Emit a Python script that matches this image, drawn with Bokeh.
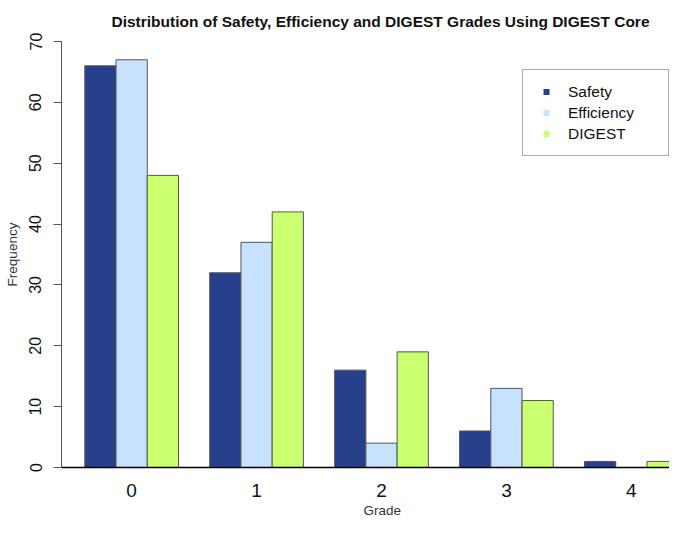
from bokeh.plotting import figure
from bokeh.models import Range1d, FixedTicker, Legend, LegendItem, ColumnDataSource, Title
from bokeh.embed import file_html
from bokeh.resources import INLINE

# ---- data ----
grades = [0, 1, 2, 3, 4]
safety = [66, 32, 16, 6, 1]
efficiency = [67, 37, 4, 13, 0]
digest = [48, 42, 19, 11, 1]
series_names = ["Safety", "Efficiency", "DIGEST"]
series_values = [safety, efficiency, digest]
colors = ["#27408B", "#C6E2FF", "#CAFF70"]
y_ticks = [0, 10, 20, 30, 40, 50, 60, 70]
title_text = "Distribution of Safety, Efficiency and DIGEST Grades Using DIGEST Core"
x_title = "Grade"
y_title = "Frequency"

FONT = "Liberation Sans"
bar_w = 0.25  # three bars per grade, one bar-width gap between groups

p = figure(width=669, height=518, output_backend="svg", toolbar_location=None,
           x_range=Range1d(-0.5616, 4.3055), y_range=Range1d(0, 70),
           min_border_left=61, min_border_right=0, min_border_top=41, min_border_bottom=51)
p.background_fill_color = "white"
p.border_fill_color = "white"
p.outline_line_color = None
p.xgrid.visible = False
p.ygrid.visible = False

legend_items = []
for j, (name, vals, col) in enumerate(zip(series_names, series_values, colors)):
    xs = [g + (j - 1) * bar_w for g in grades]
    src = ColumnDataSource(dict(x=xs, top=vals))
    p.vbar(x="x", top="top", bottom=0, width=bar_w, source=src,
           fill_color=col, line_color="#555555", line_width=1)
    leg = p.scatter(x=xs[:1], y=vals[:1], marker="square", fill_color=col,
                    line_color=None, visible=False)
    legend_items.append(LegendItem(label=name, renderers=[leg]))

legend = Legend(items=legend_items, location=(461, 311),
                padding=11, spacing=0, margin=0,
                glyph_width=24, glyph_height=15, label_height=21,
                label_standoff=10, label_width=89,
                label_text_font=FONT, label_text_font_size="15.5px", label_text_color="#111111",
                border_line_color="#555555", border_line_width=1,
                background_fill_color="white", background_fill_alpha=1)
p.add_layout(legend, "center")

# title
p.add_layout(Title(text=title_text, align="left", offset=50, vertical_align="top",
                   standoff=20, text_font=FONT, text_font_size="15.5px",
                   text_font_style="bold", text_color="#111111"), "above")

# y axis
ya = p.yaxis[0]
ya.ticker = FixedTicker(ticks=y_ticks)
ya.major_label_orientation = "vertical"
ya.major_label_text_font = FONT
ya.major_label_text_font_size = "16px"
ya.major_label_text_color = "#111111"
ya.major_label_standoff = 12
ya.major_tick_out = 8
ya.major_tick_in = 0
ya.minor_tick_line_color = None
ya.axis_line_color = "#555555"
ya.major_tick_line_color = "#555555"
ya.axis_label = y_title
ya.axis_label_text_font = FONT
ya.axis_label_text_font_size = "13.5px"
ya.axis_label_text_font_style = "normal"
ya.axis_label_text_color = "#333333"
ya.axis_label_standoff = 7

# x axis
xa = p.xaxis[0]
xa.ticker = FixedTicker(ticks=grades)
xa.major_label_text_font = FONT
xa.major_label_text_font_size = "19px"
xa.major_label_text_color = "#111111"
xa.major_label_standoff = 10
xa.major_tick_line_color = None
xa.minor_tick_line_color = None
xa.axis_line_color = "black"
xa.axis_line_width = 1.5

# x axis title, centred on the R plot region (under grade 2)
p.add_layout(Title(text=x_title, align="left", offset=302, vertical_align="bottom",
                   standoff=2, text_font=FONT, text_font_size="13.5px",
                   text_font_style="normal", text_color="#333333"), "below")

open("out.html", "w").write(file_html(p, INLINE))
